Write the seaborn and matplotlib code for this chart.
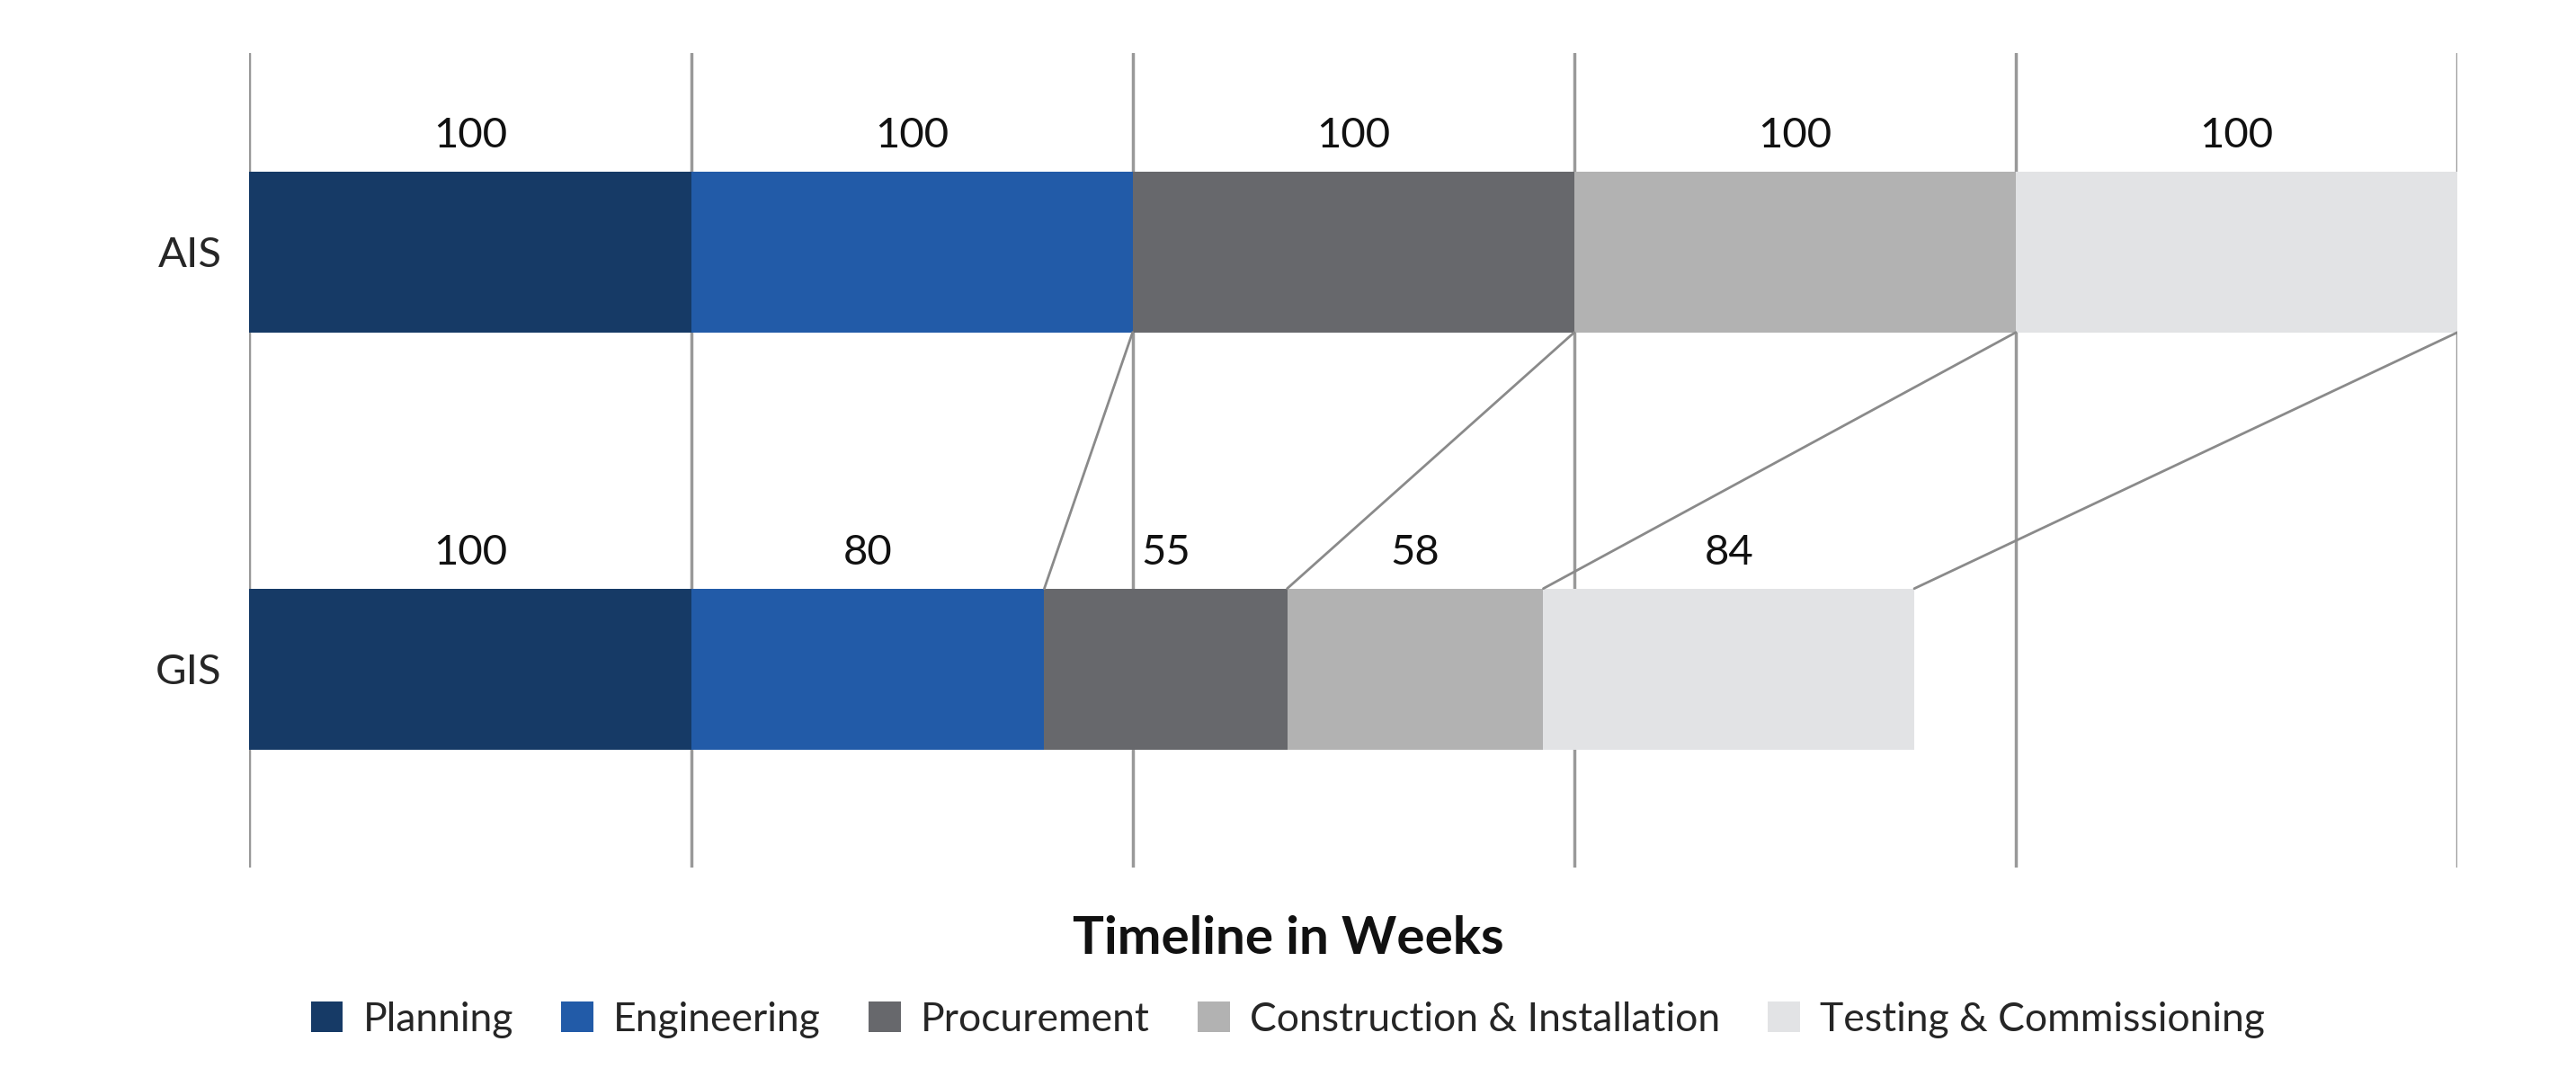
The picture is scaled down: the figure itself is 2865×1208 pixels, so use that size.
import matplotlib
matplotlib.use("Agg")
import matplotlib.pyplot as plt
import seaborn as sns
import numpy as np
from matplotlib.patches import Patch

categories = ["AIS", "GIS"]
phases = ["Planning", "Engineering", "Procurement", "Construction & Installation", "Testing & Commissioning"]
ais_values = [100, 100, 100, 100, 100]
gis_values = [100, 80, 55, 58, 84]
colors = ["#163A66", "#225BA8", "#67686C", "#B2B2B2", "#E2E3E5"]

sns.set_style("white")
plt.rcParams['font.family'] = ['Lato', 'DejaVu Sans']

fig = plt.figure(figsize=(28.65, 12.08), dpi=100)
ax = fig.add_axes([0.0968, 0.201, 0.954 - 0.0968, 0.951 - 0.201])

h = 0.386
data = {"AIS": ais_values, "GIS": gis_values}
for yi, cat in enumerate(categories):
    vals = data[cat]
    left = 0
    for v, c in zip(vals, colors):
        ax.barh(yi, v, left=left, height=h, color=c, edgecolor="none", zorder=2)
        ax.text(left + v / 2, yi - h / 2 - 0.04, str(v), ha="center", va="bottom",
                fontsize=34, color="#111111", zorder=3)
        left += v

ais_cum = np.cumsum(ais_values)
gis_cum = np.cumsum(gis_values)
for i in range(1, 5):
    ax.plot([ais_cum[i], gis_cum[i]], [0 + h / 2, 1 - h / 2], color="#8a8a8a", lw=2, zorder=3)

ax.set_xlim(0, 500)
ax.set_ylim(1.476, -0.476)
ax.set_xticks(range(0, 501, 100))
ax.set_xticklabels([])
ax.set_yticks([0, 1])
ax.set_yticklabels(categories, fontsize=34)
ax.tick_params(axis="both", length=0)
ax.tick_params(axis="y", pad=22)
ax.grid(axis="x", color="#999999", lw=2.5, zorder=0)
ax.grid(axis="y", visible=False)
for s in ax.spines.values():
    s.set_visible(False)
ax.set_axisbelow(True)

fig.text(0.5, 0.135, "Timeline in Weeks", ha="center", va="center", fontsize=42, fontweight="bold", color="#111111")
handles = [Patch(facecolor=c, edgecolor="none") for c in colors]
fig.legend(handles, phases, loc="center", bbox_to_anchor=(0.5, 0.061), ncol=5, frameon=False,
           fontsize=32, handlelength=0.8, handleheight=0.8, handletextpad=0.5, columnspacing=1.2)

fig.savefig("out.png", dpi=100)
